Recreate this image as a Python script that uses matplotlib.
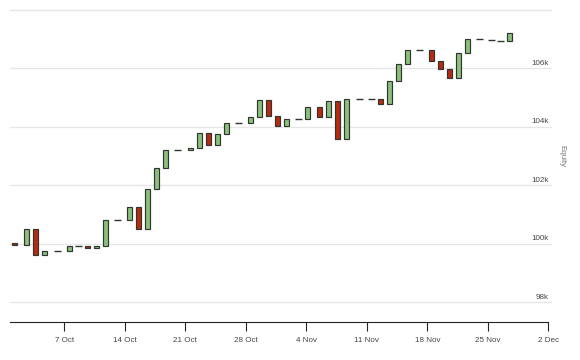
import matplotlib
matplotlib.use("Agg")
import matplotlib.pyplot as plt
import matplotlib.dates as mdates
import pandas as pd
import numpy as np

dates = ["2018-10-01 05:00", "2018-10-02 14:30", "2018-10-03 15:30", "2018-10-04 16:30",
         "2018-10-06 04:30", "2018-10-07 14:00", "2018-10-08 15:00", "2018-10-09 16:30",
         "2018-10-10 17:30", "2018-10-11 18:00", "2018-10-13 03:30", "2018-10-14 12:30",
         "2018-10-15 13:30", "2018-10-16 14:30", "2018-10-17 15:30", "2018-10-18 16:30",
         "2018-10-20 02:00", "2018-10-21 14:30", "2018-10-22 15:00", "2018-10-23 16:00",
         "2018-10-24 17:00", "2018-10-25 18:00", "2018-10-27 03:00", "2018-10-28 12:30",
         "2018-10-29 13:30", "2018-10-30 14:30", "2018-10-31 15:30", "2018-11-01 16:30",
         "2018-11-03 02:00", "2018-11-04 03:00", "2018-11-05 12:00", "2018-11-06 13:00",
         "2018-11-07 14:00", "2018-11-08 15:00", "2018-11-10 03:00", "2018-11-11 12:30",
         "2018-11-12 13:30", "2018-11-13 14:30", "2018-11-14 15:30", "2018-11-15 16:30",
         "2018-11-17 02:00", "2018-11-18 11:00", "2018-11-19 12:00", "2018-11-20 13:00",
         "2018-11-21 14:00", "2018-11-22 15:00", "2018-11-24 00:30", "2018-11-25 09:30",
         "2018-11-26 10:30", "2018-11-27 11:30"]

opens = [100020, 99950, 100500, 99610, 99740, 99740, 99910, 99910, 99850, 99910,
         100800, 100800, 101250, 100500, 101860, 102580, 103200, 103200, 103260, 103780,
         103370, 103740, 104120, 104120, 104320, 104910, 104360, 104020, 104260, 104260,
         104670, 104320, 104870, 103570, 104940, 104940, 104940, 104770, 105560, 106140,
         106620, 106620, 106240, 105970, 105660, 106510, 106990, 106970, 106940, 106930]

closes = [99950, 100500, 99610, 99740, 99740, 99910, 99910, 99850, 99910, 100800,
          100800, 101250, 100500, 101860, 102580, 103200, 103200, 103260, 103780, 103370,
          103740, 104120, 104120, 104320, 104910, 104360, 104020, 104260, 104260, 104670,
          104320, 104870, 103570, 104940, 104940, 104940, 104770, 105560, 106140, 106620,
          106620, 106240, 105970, 105660, 106510, 106990, 106990, 106970, 106940, 107200]

y_ticks = [98000, 100000, 102000, 104000, 106000, 108000]
y_tick_labels = ["98k", "100k", "102k", "104k", "106k", ""]

x_start = "2018-09-30 17:00"
x_end = "2018-12-02 00:00"

GREEN = "#8cc07a"
RED = "#b8290f"
EDGE = "#2f3632"
GRID = "#e6e6e6"
FONT = "Liberation Sans"

plt.rcParams["font.family"] = [FONT, "DejaVu Sans"]

fig = plt.figure(figsize=(5.8, 3.6), dpi=100)
W, H = 580, 360
ax = fig.add_axes([10 / W, (H - 321.7) / H, (548.3 - 10) / W, 321.7 / H])

x = mdates.date2num(pd.to_datetime(dates).to_pydatetime())
o = np.array(opens, dtype=float)
c = np.array(closes, dtype=float)

px_per_day = (548.3 - 10) / (mdates.date2num(pd.Timestamp(x_end)) - mdates.date2num(pd.Timestamp(x_start)))
body_w = 5.0 / px_per_day
dash_half = 3.4 / px_per_day

is_doji = np.abs(o - c) < 15
up = (c >= o) & ~is_doji
down = (c < o) & ~is_doji

ax.bar(x[up], (c - o)[up], bottom=o[up], width=body_w, color=GREEN,
       edgecolor=EDGE, linewidth=0.85, zorder=3)
ax.bar(x[down], (o - c)[down], bottom=c[down], width=body_w, color=RED,
       edgecolor=EDGE, linewidth=0.85, zorder=3)
ax.hlines(c[is_doji], x[is_doji] - dash_half, x[is_doji] + dash_half,
          color=EDGE, linewidth=1.0, zorder=3)

ax.set_xlim(mdates.date2num(pd.Timestamp(x_start)), mdates.date2num(pd.Timestamp(x_end)))
ax.set_ylim(97337, 108335)

# gridlines
for yv in y_ticks:
    ax.plot([0, 1.005], [yv, yv], transform=ax.get_yaxis_transform(),
            color=GRID, linewidth=1.0, clip_on=False, zorder=1)

# y tick labels inside plot, above gridlines
for yv, lab in zip(y_ticks, y_tick_labels):
    if lab:
        ax.annotate(lab, xy=(1.0, yv), xycoords=ax.get_yaxis_transform(),
                    xytext=(0, 3.6), textcoords="offset points",
                    ha="right", va="center", fontsize=5.8, color="#444444")
ax.set_yticks([])

for s in ["left", "right", "top"]:
    ax.spines[s].set_visible(False)
ax.spines["bottom"].set_color("#222222")
ax.spines["bottom"].set_linewidth(0.8)

ax.xaxis.set_major_locator(mdates.WeekdayLocator(byweekday=mdates.SU))
ax.xaxis.set_major_formatter(mdates.DateFormatter("%-d %b"))
ax.tick_params(axis="x", length=6.2, width=0.8, color="#222222", pad=4.6,
               labelsize=5.8, labelcolor="#444444")

fig.text(562 / W, 1 - 156 / H, "Equity", rotation=270, ha="center", va="center",
         fontsize=5.8, color="#777777")

fig.savefig("out.png", dpi=100)
